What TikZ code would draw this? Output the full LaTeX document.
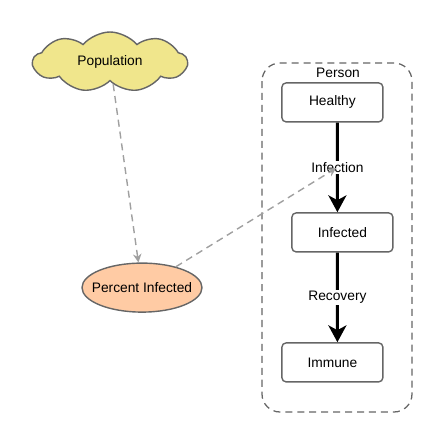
\documentclass[tikz,border=0pt]{standalone}
\usepackage{fontspec}
\setmainfont{Liberation Sans}
\usetikzlibrary{shapes.symbols,shapes.geometric,arrows.meta}
\definecolor{popfill}{HTML}{F0E68C}
\definecolor{pctfill}{HTML}{FFCBA4}
\definecolor{linegray}{HTML}{666666}
\definecolor{linkgray}{HTML}{A0A0A0}

\begin{document}
\begin{tikzpicture}[font=\fontsize{9.8}{11}\selectfont]
\useasboundingbox (0,0) rectangle (10.85,-10.85);

\draw[linegray, line width=0.9pt, dash pattern=on 5pt off 3.5pt, rounded corners=0.45cm] (6.55,-1.575) rectangle (10.3,-10.3);
\node (Person) at (8.45,-1.83) {Person};

\node (Population)[cloud, cloud puffs=9, cloud puff arc=100, aspect=2.6, draw=linegray, line width=1pt, fill=popfill,
      minimum width=3.85cm, minimum height=1.5cm, inner sep=0pt] at (2.75,-1.55) {Population};
\node (Percent)[ellipse, draw=linegray, line width=1pt, fill=pctfill,
      minimum width=3.0cm, minimum height=1.225cm, inner xsep=-0.4cm, inner ysep=0pt] at (3.55,-7.19) {Percent Infected};

\begin{scope}[every node/.style={rectangle,rounded corners=3pt,draw=linegray,line width=1pt,fill=white,
              minimum width=2.525cm,minimum height=0.975cm}]
    \node (Healthy) at (8.31,-2.56) {Healthy};
    \node (Infected) at (8.56,-5.81) {Infected};
    \node (Immune) at (8.31,-9.06) {Immune};
\end{scope}

\begin{scope}[every edge/.style={draw=black,line width=2.2pt,-{Stealth[length=0.42cm,width=0.45cm,inset=0.12cm]}},
              every node/.style={fill=white,inner sep=1pt}]
    \path ([xshift=0.125cm]Healthy.south) edge node (Infection) {Infection} ([xshift=-0.125cm]Infected.north);
    \path ([xshift=-0.125cm]Infected.south) edge node (Recovery) {Recovery} ([xshift=0.125cm]Immune.north);
\end{scope}

\begin{scope}[every edge/.style={draw=linkgray,line width=1pt,dash pattern=on 5pt off 3.5pt,-{Stealth[length=6pt,width=6pt]}}]
    \path (Population) edge (Percent);
    \path (Percent) edge[shorten >=1pt] (Infection.center);
\end{scope}
\end{tikzpicture}
\end{document}
